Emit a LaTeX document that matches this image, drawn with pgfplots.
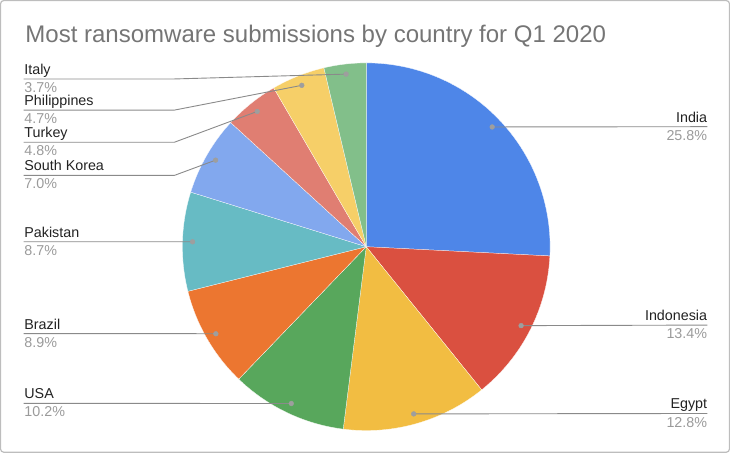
\documentclass[border=0pt]{standalone}
\usepackage{pgfplots}
\pgfplotsset{compat=1.18}
\usepackage{pgfplotstable}
\usepackage{fontspec}
\setmainfont{Liberation Sans}

\definecolor{c0}{HTML}{4E86E8}
\definecolor{c1}{HTML}{DA5040}
\definecolor{c2}{HTML}{F2BD42}
\definecolor{c3}{HTML}{58A75C}
\definecolor{c4}{HTML}{EC7630}
\definecolor{c5}{HTML}{67BBC4}
\definecolor{c6}{HTML}{82A8EE}
\definecolor{c7}{HTML}{E07E72}
\definecolor{c8}{HTML}{F6CF68}
\definecolor{c9}{HTML}{82BF8A}
\definecolor{titlegray}{HTML}{757575}
\definecolor{namecol}{HTML}{222222}
\definecolor{pctcol}{HTML}{9A9A9A}
\definecolor{linegray}{HTML}{8A8A8A}
\definecolor{dotgray}{HTML}{9E9E9E}
\definecolor{bordergray}{HTML}{BDBDBD}

\pgfplotstableread[col sep=comma]{
label,value,ly,side
India,25.8,127.5,1
Indonesia,13.4,325,1
Egypt,12.8,413,1
USA,10.2,403,0
Brazil,8.9,333.5,0
Pakistan,8.7,242,0
South Korea,7.0,176,0
Turkey,4.8,143,0
Philippines,4.7,111,0
Italy,3.7,80,0
}\piedata

\begin{document}
\begin{tikzpicture}[x=1bp,y=1bp]
\begin{axis}[at={(0,0)}, anchor=south west, width=730bp, height=454bp,
  scale only axis, xmin=0, xmax=730, ymin=0, ymax=454, y dir=reverse,
  hide axis, clip=false]
% border
\draw[bordergray, line width=1.2pt, rounded corners=3pt] (axis cs:2,2) rectangle (axis cs:727.5,451.5);
% title
\node[anchor=base west, text=titlegray, font=\fontsize{24}{28}\selectfont, inner sep=0pt]
  at (axis cs:26.5,44) {Most ransomware submissions by country for Q1 2020};
% slices
\gdef\cum{0}
\foreach \i in {0,...,9}{
  \pgfplotstablegetelem{\i}{value}\of\piedata \let\v\pgfplotsretval
  \pgfmathsetmacro\tA{90-3.6*\cum}
  \pgfmathsetmacro\tB{90-3.6*(\cum+\v)}
  \pgfmathsetmacro\newcum{\cum+\v}
  \xdef\cum{\newcum}
  \edef\cmd{\noexpand\addplot[fill=c\i, draw=white, line width=0.25pt, domain=\tB:\tA, samples=80, variable=\noexpand\t]
    ({366+183*cos(\noexpand\t)},{247-183*sin(\noexpand\t)}) -- (axis cs:366,247) -- cycle;}
  \cmd
}
% leader lines, dots, labels
\gdef\cum{0}
\foreach \i in {0,...,9}{
  \pgfplotstablegetelem{\i}{value}\of\piedata \let\v\pgfplotsretval
  \pgfplotstablegetelem{\i}{label}\of\piedata \let\lab\pgfplotsretval
  \pgfplotstablegetelem{\i}{ly}\of\piedata \let\ly\pgfplotsretval
  \pgfplotstablegetelem{\i}{side}\of\piedata \let\side\pgfplotsretval
  \pgfmathsetmacro\tM{90-3.6*(\cum+\v/2)}
  \pgfmathsetmacro\dx{366+173*cos(\tM)}
  \pgfmathsetmacro\dy{247-173*sin(\tM)}
  \pgfmathsetmacro\nY{\ly-4.5}
  \pgfmathsetmacro\pY{\ly+13.5}
  \pgfmathsetmacro\newcum{\cum+\v}
  \xdef\cum{\newcum}
  \ifnum\side=1
    \edef\cmd{\noexpand\addplot[draw=linegray, line width=0.9pt] coordinates {(\dx,\dy) (705.5,\ly)};
      \noexpand\node[anchor=base east, text=namecol, font=\noexpand\fontsize{14.3}{16}\noexpand\selectfont, inner sep=0pt] at (axis cs:705.5,\nY) {\lab};
      \noexpand\node[anchor=base east, text=pctcol, font=\noexpand\fontsize{14.3}{16}\noexpand\selectfont, inner sep=0pt] at (axis cs:705.5,\pY) {\v\noexpand\%};}
  \else
    \edef\cmd{\noexpand\addplot[draw=linegray, line width=0.9pt] coordinates {(25,\ly) (175,\ly) (\dx,\dy)};
      \noexpand\node[anchor=base west, text=namecol, font=\noexpand\fontsize{14.3}{16}\noexpand\selectfont, inner sep=0pt] at (axis cs:25.5,\nY) {\lab};
      \noexpand\node[anchor=base west, text=pctcol, font=\noexpand\fontsize{14.3}{16}\noexpand\selectfont, inner sep=0pt] at (axis cs:25.5,\pY) {\v\noexpand\%};}
  \fi
  \cmd
  \edef\cmd{\noexpand\addplot[only marks, mark=*, mark size=2.4pt, color=dotgray] coordinates {(\dx,\dy)};}
  \cmd
}
\end{axis}
\end{tikzpicture}
\end{document}
